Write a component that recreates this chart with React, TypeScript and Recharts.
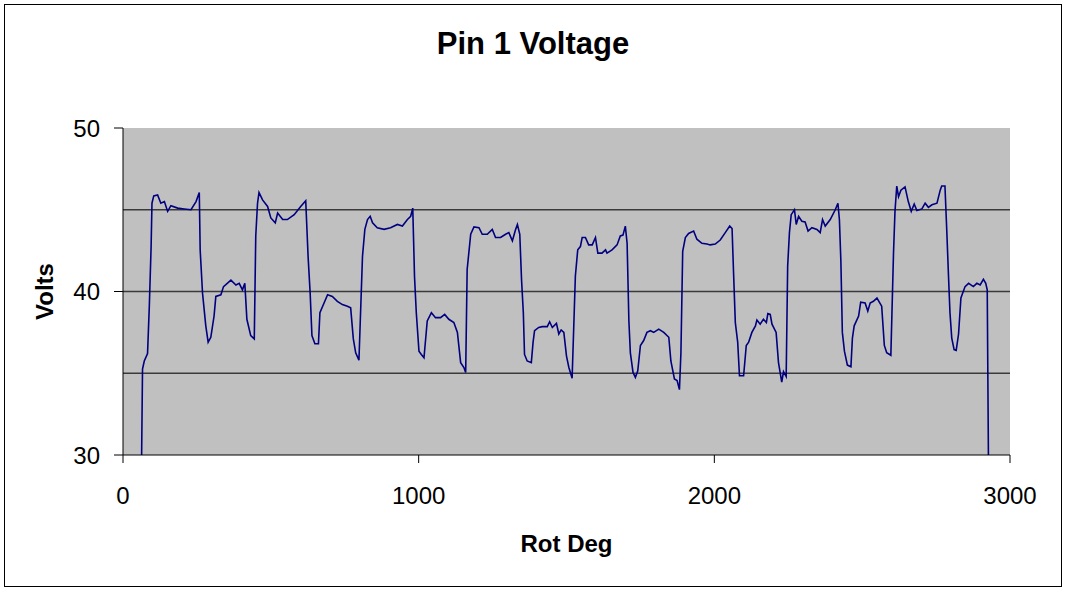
import { LineChart, Line, XAxis, YAxis, CartesianGrid } from "recharts";

// rotation angle (deg) and pin 1 voltage
const rotDeg = [
  63, 66, 72, 83, 89, 95, 98, 104, 117, 128, 140, 151, 162, 185, 207, 230, 247, 258,
  261, 269, 280, 288, 297, 308, 314, 331, 340, 365, 382, 393, 404, 412, 419, 432, 444,
  449, 455, 460, 472, 489, 500, 515, 523, 540, 556, 579, 601, 618,
  626, 633, 639, 649, 661, 666, 680, 692, 708, 725, 742, 759, 770, 779, 787, 798,
  810, 818, 827, 836, 844, 860, 883, 905, 928, 945, 962, 973, 980,
  986, 992, 1001, 1009, 1018, 1029, 1043, 1057, 1074, 1088, 1102, 1119, 1131, 1142, 1153, 1159,
  1164, 1176, 1187, 1204, 1215, 1232, 1249, 1260, 1277, 1294, 1305, 1317, 1328, 1334, 1342,
  1348, 1354, 1358, 1367, 1381, 1387, 1392, 1406, 1418, 1435, 1443, 1452, 1466, 1474, 1482,
  1491, 1500, 1508, 1519,
  1530, 1538, 1547, 1553, 1564, 1575, 1587, 1598, 1606, 1620, 1632, 1637, 1654, 1671, 1682,
  1691, 1699, 1705,
  1711, 1716, 1725, 1733, 1741, 1750, 1761, 1772, 1784, 1795, 1812, 1829, 1846, 1853, 1865,
  1874, 1882, 1887,
  1893, 1902, 1913, 1930, 1941, 1958, 1975, 1986, 2003, 2020, 2037, 2052, 2060,
  2065, 2071, 2079, 2085, 2099, 2108, 2116, 2127, 2139, 2144, 2155, 2166, 2176, 2181, 2189,
  2195, 2209, 2217, 2228, 2234, 2243,
  2248, 2254, 2260, 2271, 2277, 2285, 2296, 2307, 2317, 2330, 2347, 2358, 2366, 2375, 2392,
  2409, 2418, 2423,
  2428, 2433, 2440, 2450, 2462, 2467, 2473, 2488, 2495, 2510, 2519, 2527, 2538, 2550, 2566,
  2575, 2583, 2597,
  2606, 2611, 2617, 2623, 2631, 2645, 2656, 2666, 2676, 2685, 2702, 2713, 2724, 2736, 2753,
  2764, 2769, 2780,
  2786, 2792, 2797, 2803, 2811, 2818, 2826, 2834, 2848, 2860, 2876, 2888, 2899, 2910, 2918,
  2923, 2927,
];

const pinVolts = [
  30.0, 35.25, 35.75, 36.2, 39.1, 42.7, 45.4, 45.85, 45.9, 45.4, 45.5, 44.9, 45.25, 45.1, 45.05, 45.0, 45.5, 46.05,
  42.55, 39.9, 37.9, 36.9, 37.2, 38.5, 39.7, 39.8, 40.3, 40.7, 40.4, 40.5, 40.1, 40.5, 38.3, 37.3, 37.1,
  43.4, 45.4, 46.05, 45.6, 45.2, 44.5, 44.2, 44.8, 44.4, 44.4, 44.7, 45.2, 45.55,
  42.15, 39.9, 37.3, 36.8, 36.8, 38.7, 39.3, 39.8, 39.7, 39.4, 39.2, 39.1, 39.0, 37.1, 36.25, 35.8,
  42.15, 43.8, 44.4, 44.6, 44.2, 43.9, 43.8, 43.9, 44.1, 44.0, 44.4, 44.6, 45.1,
  40.9, 38.7, 36.35, 36.15, 35.95, 38.2, 38.7, 38.4, 38.4, 38.6, 38.3, 38.1, 37.5, 35.65, 35.35, 35.05,
  41.35, 43.5, 43.95, 43.9, 43.5, 43.5, 43.8, 43.3, 43.3, 43.5, 43.6, 43.1, 43.8, 44.1, 43.5,
  40.7, 38.7, 36.15, 35.75, 35.65, 36.9, 37.6, 37.8, 37.85, 37.85, 38.15, 37.8, 38.05, 37.4, 37.65,
  37.5, 36.05, 35.35, 34.7,
  40.95, 42.55, 42.75, 43.3, 43.3, 42.85, 42.85, 43.3, 42.35, 42.35, 42.55, 42.35, 42.55, 42.85, 43.4,
  43.45, 44.0, 42.95,
  38.2, 36.25, 35.05, 34.75, 35.15, 36.7, 37.0, 37.5, 37.6, 37.5, 37.7, 37.5, 37.2, 35.75, 34.65,
  34.55, 34.0, 36.25,
  42.45, 43.3, 43.55, 43.7, 43.2, 42.95, 42.9, 42.85, 42.9, 43.15, 43.6, 44.0, 43.85,
  41.15, 38.1, 36.9, 34.85, 34.85, 36.7, 36.9, 37.5, 37.9, 38.25, 38.0, 38.3, 38.1, 38.65, 38.6,
  38.0, 37.5, 35.65, 34.45, 35.1, 34.8,
  41.55, 43.6, 44.7, 45.0, 44.1, 44.6, 44.3, 44.25, 43.7, 43.9, 43.8, 43.6, 44.4, 44.0, 44.4,
  45.0, 45.4, 44.4,
  41.85, 37.5, 36.35, 35.5, 35.4, 37.15, 37.9, 38.5, 39.35, 39.3, 38.8, 39.3, 39.4, 39.6, 39.1,
  36.7, 36.25, 36.1,
  42.35, 44.9, 46.45, 45.8, 46.2, 46.4, 45.5, 44.9, 45.35, 44.95, 45.05, 45.4, 45.15, 45.3, 45.4,
  46.2, 46.45, 46.45,
  43.8, 40.95, 38.7, 37.15, 36.45, 36.4, 37.4, 39.6, 40.3, 40.5, 40.3, 40.5, 40.4, 40.75, 40.5,
  40.1, 30.0,
];

const xTicks = [0, 1000, 2000, 3000];
const yTicks = [30, 40, 50];
const gridVolts = [35, 40, 45];

const data = rotDeg.map((deg, i) => ({ deg, volts: pinVolts[i] }));

const FONT = "'Liberation Sans', Arial, sans-serif";

export default function App() {
  return (
    <div
      style={{
        position: "absolute",
        left: 0,
        top: 0,
        width: 1066,
        height: 590,
        background: "#fff",
        fontFamily: FONT,
      }}
    >
      <div
        style={{
          position: "absolute",
          left: 4,
          top: 4,
          width: 1058,
          height: 583,
          border: "1.5px solid #000",
          boxSizing: "border-box",
        }}
      />
      <div
        style={{
          position: "absolute",
          left: 0,
          top: 26,
          width: 1066,
          height: 36,
          lineHeight: "36px",
          textAlign: "center",
          fontSize: 31,
          fontWeight: "bold",
          color: "#000",
        }}
      >
        Pin 1 Voltage
      </div>
      <LineChart
        width={1066}
        height={590}
        data={data}
        margin={{ top: 128, right: 56, bottom: 75, left: 63 }}
        style={{ position: "absolute", left: 0, top: 0 }}
      >
        <CartesianGrid
          vertical={false}
          horizontalValues={gridVolts}
          stroke="#3a3a3a"
          strokeWidth={1.3}
          fill="#C0C0C0"
          fillOpacity={1}
        />
        <XAxis
          type="number"
          dataKey="deg"
          domain={[0, 3000]}
          ticks={xTicks}
          height={60}
          tickSize={8}
          tickMargin={24}
          stroke="#000"
          tick={{ fontSize: 24, fill: "#000", fontFamily: FONT }}
          label={{
            value: "Rot Deg",
            position: "bottom",
            offset: 20,
            style: { fontSize: 24, fontWeight: "bold", fill: "#000", fontFamily: FONT },
          }}
        />
        <YAxis
          type="number"
          domain={[30, 50]}
          ticks={yTicks}
          width={60}
          tickSize={9}
          tickMargin={14}
          allowDataOverflow
          stroke="#000"
          tick={{ fontSize: 24, fill: "#000", fontFamily: FONT }}
          label={{
            value: "Volts",
            angle: -90,
            position: "left",
            offset: 19,
            style: {
              fontSize: 24,
              fontWeight: "bold",
              fill: "#000",
              fontFamily: FONT,
              textAnchor: "middle",
            },
          }}
        />
        <Line
          type="linear"
          dataKey="volts"
          stroke="#000080"
          strokeWidth={1.6}
          dot={false}
          isAnimationActive={false}
        />
      </LineChart>
    </div>
  );
}
